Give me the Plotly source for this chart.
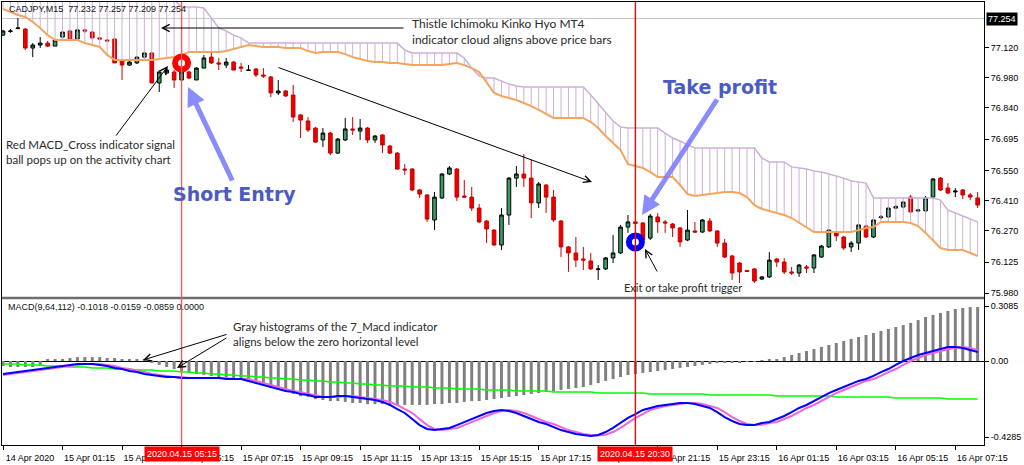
import plotly.graph_objects as go

# ---------------- data ----------------
opens = [77.177, 77.194, 77.207, 77.205, 77.117, 77.131, 77.140, 77.126, 77.168, 77.196,
         77.159, 77.201, 77.191, 77.164, 77.154, 77.159, 77.062, 77.038, 77.048, 77.075,
         77.094, 76.955, 77.001, 77.006, 76.969, 77.006, 76.969, 77.024, 77.075, 77.048,
         77.038, 77.052, 77.029, 77.013, 77.020, 76.992, 76.983, 76.909, 76.918, 76.899,
         76.807, 76.779, 76.746, 76.691, 76.723, 76.630, 76.691, 76.742, 76.732, 76.746,
         76.691, 76.714, 76.663, 76.630, 76.556, 76.556, 76.459, 76.436, 76.320, 76.422,
         76.533, 76.556, 76.431, 76.426, 76.375, 76.315, 76.273, 76.204, 76.343, 76.514,
         76.533, 76.514, 76.399, 76.482, 76.426, 76.315, 76.195, 76.167, 76.139, 76.130,
         76.090, 76.093, 76.144, 76.167, 76.287, 76.311, 76.306, 76.236, 76.334, 76.311,
         76.301, 76.283, 76.227, 76.269, 76.264, 76.315, 76.269, 76.213, 76.153, 76.120,
         76.086, 76.093, 76.046, 76.056, 76.139, 76.125, 76.079, 76.074, 76.102, 76.097,
         76.148, 76.195, 76.260, 76.241, 76.195, 76.213, 76.292, 76.241, 76.331, 76.334,
         76.375, 76.380, 76.426, 76.362, 76.362, 76.426, 76.514, 76.468, 76.450, 76.459,
         76.436, 76.422]
highs = [77.201, 77.205, 77.256, 77.210, 77.140, 77.168, 77.150, 77.159, 77.196, 77.201,
         77.205, 77.205, 77.196, 77.168, 77.159, 77.164, 77.066, 77.057, 77.080, 77.099,
         77.099, 77.015, 77.024, 77.015, 77.011, 77.011, 77.029, 77.085, 77.094, 77.071,
         77.071, 77.057, 77.048, 77.038, 77.024, 77.024, 76.987, 76.969, 76.922, 76.946,
         76.811, 76.797, 76.751, 76.746, 76.728, 76.700, 76.793, 76.797, 76.788, 76.751,
         76.714, 76.718, 76.668, 76.635, 76.579, 76.561, 76.463, 76.440, 76.450, 76.538,
         76.570, 76.561, 76.505, 76.473, 76.394, 76.320, 76.278, 76.375, 76.519, 76.570,
         76.626, 76.598, 76.496, 76.487, 76.459, 76.320, 76.199, 76.241, 76.195, 76.167,
         76.111, 76.148, 76.250, 76.297, 76.343, 76.315, 76.311, 76.348, 76.352, 76.320,
         76.306, 76.287, 76.366, 76.311, 76.324, 76.329, 76.273, 76.232, 76.158, 76.125,
         76.088, 76.097, 76.060, 76.171, 76.144, 76.144, 76.102, 76.116, 76.111, 76.162,
         76.204, 76.278, 76.264, 76.246, 76.222, 76.301, 76.297, 76.324, 76.343, 76.380,
         76.389, 76.408, 76.436, 76.371, 76.431, 76.514, 76.519, 76.491, 76.468, 76.463,
         76.445, 76.450]
lows = [77.173, 77.187, 77.205, 77.108, 77.075, 77.117, 77.122, 77.126, 77.164, 77.154,
        77.159, 77.187, 77.159, 77.154, 77.150, 77.048, 76.969, 77.034, 77.043, 77.071,
        76.955, 76.913, 76.997, 76.932, 76.964, 76.973, 76.969, 77.024, 77.043, 77.015,
        77.024, 77.015, 77.006, 77.011, 76.983, 76.978, 76.890, 76.899, 76.890, 76.774,
        76.700, 76.728, 76.677, 76.658, 76.621, 76.626, 76.686, 76.714, 76.691, 76.677,
        76.677, 76.630, 76.626, 76.552, 76.528, 76.454, 76.422, 76.311, 76.273, 76.417,
        76.528, 76.408, 76.422, 76.362, 76.306, 76.213, 76.199, 76.181, 76.297, 76.473,
        76.473, 76.329, 76.375, 76.352, 76.311, 76.148, 76.079, 76.102, 76.088, 76.088,
        76.042, 76.088, 76.120, 76.162, 76.260, 76.301, 76.222, 76.227, 76.260, 76.260,
        76.241, 76.195, 76.222, 76.260, 76.260, 76.264, 76.195, 76.144, 76.042, 76.028,
        76.079, 76.028, 76.042, 76.051, 76.102, 76.069, 76.065, 76.056, 76.074, 76.074,
        76.144, 76.190, 76.222, 76.181, 76.171, 76.181, 76.236, 76.236, 76.324, 76.329,
        76.371, 76.375, 76.352, 76.357, 76.357, 76.422, 76.454, 76.440, 76.426, 76.417,
        76.412, 76.375]
closes = [77.196, 77.196, 77.210, 77.117, 77.131, 77.140, 77.126, 77.154, 77.191, 77.159,
          77.201, 77.196, 77.164, 77.159, 77.150, 77.048, 77.038, 77.052, 77.075, 77.094,
          76.955, 77.006, 77.015, 76.969, 77.006, 76.978, 77.024, 77.071, 77.048, 77.043,
          77.052, 77.015, 77.024, 77.015, 76.992, 76.987, 76.909, 76.918, 76.895, 76.797,
          76.783, 76.737, 76.681, 76.723, 76.630, 76.695, 76.742, 76.737, 76.746, 76.691,
          76.709, 76.668, 76.630, 76.556, 76.552, 76.459, 76.440, 76.324, 76.426, 76.533,
          76.561, 76.426, 76.426, 76.375, 76.311, 76.278, 76.204, 76.343, 76.514, 76.533,
          76.514, 76.399, 76.487, 76.426, 76.320, 76.195, 76.167, 76.134, 76.134, 76.093,
          76.093, 76.144, 76.167, 76.287, 76.311, 76.304, 76.227, 76.338, 76.311, 76.306,
          76.283, 76.218, 76.273, 76.264, 76.320, 76.269, 76.213, 76.148, 76.074, 76.079,
          76.081, 76.037, 76.056, 76.134, 76.125, 76.079, 76.074, 76.111, 76.097, 76.158,
          76.199, 76.273, 76.246, 76.190, 76.213, 76.297, 76.241, 76.320, 76.334, 76.375,
          76.382, 76.403, 76.357, 76.366, 76.422, 76.510, 76.459, 76.445, 76.454, 76.436,
          76.426, 76.389]

# Ichimoku cloud boundaries (orange span and thistle span)
span_a = [77.298, 77.284, 77.270, 77.261, 77.238, 77.210, 77.177, 77.154, 77.154, 77.154,
          77.154, 77.140, 77.131, 77.122, 77.085, 77.062, 77.062, 77.062, 77.062, 77.062,
          77.062, 77.066, 77.071, 77.075, 77.085, 77.099, 77.099, 77.099, 77.099, 77.099,
          77.103, 77.113, 77.122, 77.131, 77.126, 77.122, 77.122, 77.122, 77.117, 77.117,
          77.117, 77.103, 77.094, 77.099, 77.099, 77.099, 77.089, 77.075, 77.066, 77.057,
          77.052, 77.052, 77.048, 77.048, 77.043, 77.038, 77.038, 77.038, 77.038, 77.038,
          77.043, 77.048, 77.038, 77.024, 77.006, 76.960, 76.909, 76.895, 76.885, 76.876,
          76.862, 76.848, 76.830, 76.811, 76.793, 76.793, 76.793, 76.793, 76.793, 76.774,
          76.746, 76.709, 76.677, 76.644, 76.579, 76.570, 76.561, 76.542, 76.519, 76.519,
          76.519, 76.482, 76.440, 76.431, 76.436, 76.440, 76.445, 76.450, 76.450, 76.445,
          76.426, 76.389, 76.371, 76.362, 76.352, 76.343, 76.329, 76.306, 76.283, 76.264,
          76.264, 76.264, 76.264, 76.264, 76.264, 76.273, 76.283, 76.287, 76.311, 76.311,
          76.311, 76.311, 76.306, 76.292, 76.260, 76.227, 76.190, 76.181, 76.181, 76.181,
          76.167, 76.153]
span_b = [77.340, 77.340, 77.340, 77.340, 77.340, 77.340, 77.340, 77.340, 77.340, 77.340,
          77.340, 77.340, 77.340, 77.340, 77.340, 77.340, 77.340, 77.340, 77.340, 77.340,
          77.340, 77.340, 77.340, 77.340, 77.307, 77.307, 77.307, 77.303, 77.256, 77.210,
          77.196, 77.177, 77.164, 77.140, 77.140, 77.140, 77.140, 77.140, 77.140, 77.140,
          77.140, 77.140, 77.140, 77.140, 77.140, 77.140, 77.140, 77.140, 77.140, 77.140,
          77.140, 77.140, 77.140, 77.140, 77.108, 77.094, 77.094, 77.094, 77.094, 77.094,
          77.094, 77.094, 77.071, 77.024, 76.987, 76.978, 76.978, 76.964, 76.950, 76.941,
          76.936, 76.936, 76.936, 76.936, 76.936, 76.936, 76.936, 76.936, 76.936, 76.899,
          76.858, 76.816, 76.779, 76.751, 76.746, 76.746, 76.746, 76.746, 76.746, 76.723,
          76.700, 76.686, 76.668, 76.654, 76.654, 76.654, 76.654, 76.654, 76.654, 76.654,
          76.654, 76.654, 76.607, 76.589, 76.589, 76.589, 76.566, 76.561, 76.556, 76.547,
          76.542, 76.533, 76.524, 76.514, 76.501, 76.496, 76.491, 76.422, 76.422, 76.422,
          76.422, 76.422, 76.422, 76.422, 76.422, 76.422, 76.412, 76.366, 76.352, 76.338,
          76.324, 76.311]

# MACD panel series
macd_hist = [-0.028, -0.034, -0.034, -0.034, -0.034, -0.028, 0.006, 0.011, 0.011, 0.017,
             0.022, 0.022, 0.022, 0.022, 0.017, 0.017, 0.011, 0.011, 0.006, 0.006,
             -0.011, -0.022, -0.034, -0.045, -0.056, -0.067, -0.073, -0.079, -0.084, -0.090,
             -0.096, -0.101, -0.107, -0.118, -0.129, -0.141, -0.152, -0.163, -0.174, -0.185,
             -0.197, -0.202, -0.214, -0.219, -0.225, -0.225, -0.230, -0.236, -0.236, -0.242,
             -0.242, -0.242, -0.247, -0.247, -0.247, -0.247, -0.247, -0.247, -0.242, -0.242,
             -0.236, -0.236, -0.230, -0.225, -0.225, -0.219, -0.214, -0.208, -0.202, -0.197,
             -0.191, -0.185, -0.180, -0.174, -0.169, -0.163, -0.157, -0.152, -0.146, -0.135,
             -0.124, -0.112, -0.101, -0.090, -0.079, -0.073, -0.067, -0.062, -0.056, -0.051,
             -0.045, -0.039, -0.034, -0.028, -0.022, -0.017, -0.011, -0.008, -0.006, -0.006,
             -0.004, -0.002, 0.002, 0.006, 0.011, 0.022, 0.034, 0.045, 0.056, 0.067,
             0.079, 0.090, 0.101, 0.112, 0.124, 0.135, 0.146, 0.157, 0.169, 0.180,
             0.191, 0.202, 0.214, 0.230, 0.247, 0.259, 0.270, 0.281, 0.292, 0.298,
             0.303, 0.303]
macd_main = [-0.073, -0.067, -0.062, -0.056, -0.051, -0.045, -0.039, -0.034, -0.028, -0.022,
             -0.017, -0.017, -0.017, -0.022, -0.028, -0.039, -0.045, -0.056, -0.062, -0.073,
             -0.079, -0.084, -0.090, -0.090, -0.096, -0.096, -0.096, -0.096, -0.096, -0.096,
             -0.101, -0.101, -0.101, -0.112, -0.124, -0.135, -0.146, -0.157, -0.169, -0.174,
             -0.185, -0.191, -0.202, -0.202, -0.202, -0.197, -0.197, -0.202, -0.208, -0.214,
             -0.219, -0.230, -0.247, -0.270, -0.292, -0.326, -0.360, -0.382, -0.388, -0.382,
             -0.376, -0.360, -0.343, -0.326, -0.309, -0.292, -0.281, -0.275, -0.281, -0.292,
             -0.309, -0.326, -0.343, -0.354, -0.371, -0.388, -0.399, -0.410, -0.416, -0.421,
             -0.416, -0.399, -0.376, -0.348, -0.320, -0.298, -0.275, -0.264, -0.253, -0.247,
             -0.242, -0.236, -0.236, -0.242, -0.253, -0.264, -0.287, -0.315, -0.337, -0.354,
             -0.360, -0.360, -0.348, -0.343, -0.326, -0.309, -0.287, -0.264, -0.247, -0.225,
             -0.202, -0.180, -0.163, -0.146, -0.129, -0.112, -0.101, -0.084, -0.062, -0.045,
             -0.022, 0.000, 0.017, 0.034, 0.045, 0.056, 0.067, 0.079, 0.079, 0.073,
             0.062, 0.051]
macd_signal = [-0.079, -0.073, -0.067, -0.062, -0.056, -0.051, -0.045, -0.039, -0.034, -0.028,
               -0.022, -0.017, -0.017, -0.017, -0.022, -0.028, -0.039, -0.045, -0.056, -0.062,
               -0.073, -0.079, -0.084, -0.090, -0.090, -0.096, -0.096, -0.096, -0.096, -0.096,
               -0.096, -0.101, -0.101, -0.101, -0.112, -0.124, -0.135, -0.146, -0.157, -0.169,
               -0.174, -0.185, -0.191, -0.202, -0.202, -0.202, -0.197, -0.197, -0.202, -0.208,
               -0.214, -0.219, -0.230, -0.247, -0.270, -0.292, -0.326, -0.360, -0.382, -0.388,
               -0.382, -0.376, -0.360, -0.343, -0.326, -0.309, -0.292, -0.281, -0.275, -0.281,
               -0.292, -0.309, -0.326, -0.343, -0.354, -0.371, -0.388, -0.399, -0.410, -0.416,
               -0.418, -0.414, -0.399, -0.376, -0.348, -0.320, -0.298, -0.275, -0.264, -0.253,
               -0.247, -0.242, -0.236, -0.236, -0.242, -0.253, -0.264, -0.287, -0.315, -0.337,
               -0.354, -0.360, -0.358, -0.348, -0.343, -0.326, -0.309, -0.287, -0.264, -0.247,
               -0.225, -0.202, -0.180, -0.163, -0.146, -0.129, -0.112, -0.101, -0.084, -0.062,
               -0.045, -0.022, 0.000, 0.017, 0.034, 0.045, 0.056, 0.067, 0.076, 0.079,
               0.073, 0.062]
macd_slow = [-0.017, -0.017, -0.017, -0.022, -0.022, -0.022, -0.028, -0.028, -0.028, -0.034,
             -0.034, -0.034, -0.039, -0.039, -0.039, -0.045, -0.045, -0.045, -0.051, -0.051,
             -0.051, -0.056, -0.056, -0.056, -0.062, -0.062, -0.067, -0.067, -0.073, -0.073,
             -0.079, -0.079, -0.084, -0.084, -0.090, -0.090, -0.096, -0.096, -0.101, -0.101,
             -0.107, -0.107, -0.112, -0.112, -0.118, -0.118, -0.124, -0.124, -0.129, -0.129,
             -0.135, -0.135, -0.140, -0.140, -0.140, -0.146, -0.146, -0.146, -0.152, -0.152,
             -0.152, -0.157, -0.157, -0.157, -0.157, -0.163, -0.163, -0.163, -0.163, -0.169,
             -0.169, -0.169, -0.169, -0.169, -0.174, -0.174, -0.174, -0.174, -0.174, -0.174,
             -0.180, -0.180, -0.180, -0.180, -0.180, -0.180, -0.180, -0.185, -0.185, -0.185,
             -0.185, -0.185, -0.185, -0.185, -0.185, -0.191, -0.191, -0.191, -0.191, -0.191,
             -0.191, -0.191, -0.191, -0.191, -0.197, -0.197, -0.197, -0.197, -0.197, -0.197,
             -0.197, -0.197, -0.202, -0.202, -0.202, -0.202, -0.202, -0.202, -0.202, -0.202,
             -0.208, -0.208, -0.208, -0.208, -0.208, -0.208, -0.208, -0.214, -0.214, -0.214,
             -0.214, -0.214]

tick_labels = ["14 Apr 2020", "15 Apr 01:15", "15 Apr 03:15", "15 Apr 05:15", "15 Apr 07:15",
               "15 Apr 09:15", "15 Apr 11:15", "15 Apr 13:15", "15 Apr 15:15", "15 Apr 17:15",
               "15 Apr 19:15", "15 Apr 21:15", "15 Apr 23:15", "16 Apr 01:15", "16 Apr 03:15",
               "16 Apr 05:15", "16 Apr 07:15"]
bars_per_label = 8
price_ticks = [77.120, 76.980, 76.840, 76.695, 76.550, 76.410, 76.270, 76.125, 75.980]
macd_ticks = [0.3085, 0.0, -0.4285]
macd_tick_text = ["0.3085", "0.00", "-0.4285"]
current_price = 77.254
entry_bar, entry_label = 24, "2020.04.15 05:15"
exit_bar, exit_label = 85, "2020.04.15 20:30"
sell_signal_bar, sell_signal_price = [24], [77.048]
exit_signal_bar, exit_signal_price = [85], [76.218]

# ---------------- figure ----------------
bars = list(range(len(opens)))
THISTLE = "#cdb0d6"
ORANGE = "#f5a45e"

cloud_x, cloud_y = [], []
for i, (a, b) in enumerate(zip(span_a, span_b)):
    cloud_x += [i, i, None]
    cloud_y += [a, b, None]

fig = go.Figure()
fig.add_trace(go.Scatter(x=cloud_x, y=cloud_y, mode="lines", line=dict(color=THISTLE, width=1),
                         hoverinfo="skip", xaxis="x", yaxis="y"))
fig.add_trace(go.Scatter(x=bars, y=span_b, mode="lines", line=dict(color=THISTLE, width=1.5),
                         xaxis="x", yaxis="y"))
fig.add_trace(go.Scatter(x=bars, y=span_a, mode="lines", line=dict(color=ORANGE, width=2),
                         xaxis="x", yaxis="y"))
fig.add_trace(go.Candlestick(
    x=bars, open=opens, high=highs, low=lows, close=closes, xaxis="x", yaxis="y",
    increasing=dict(line=dict(color="#000000", width=1), fillcolor="#3a9c62"),
    decreasing=dict(line=dict(color="#c80000", width=1), fillcolor="#ee0000"),
    whiskerwidth=0))
fig.add_trace(go.Scatter(x=sell_signal_bar, y=sell_signal_price, mode="markers",
                         marker=dict(symbol="circle-open", size=13, color="#ff0000", line=dict(width=6)),
                         xaxis="x", yaxis="y"))
fig.add_trace(go.Scatter(x=exit_signal_bar, y=exit_signal_price, mode="markers",
                         marker=dict(symbol="circle-open", size=13, color="#0000ff", line=dict(width=6)),
                         xaxis="x", yaxis="y"))

# MACD panel
fig.add_trace(go.Bar(x=bars, y=macd_hist, width=0.4, marker=dict(color="#808080", line=dict(width=0)),
                     xaxis="x2", yaxis="y2"))
fig.add_trace(go.Scatter(x=bars, y=macd_slow, mode="lines", line=dict(color="#00ff00", width=1.5),
                         xaxis="x2", yaxis="y2"))
fig.add_trace(go.Scatter(x=bars, y=macd_signal, mode="lines", line=dict(color="#ee66dd", width=2),
                         xaxis="x2", yaxis="y2"))
fig.add_trace(go.Scatter(x=bars, y=macd_main, mode="lines", line=dict(color="#0000ff", width=2),
                         xaxis="x2", yaxis="y2"))

# ---------------- layout ----------------
W, H = 1024, 465
L, R, T, B = 2, 40, 2, 20
PW, PH = W - L - R, H - T - B
PX0 = 3.0          # pixel of first bar centre
BAR_PX = 7.44      # pixel spacing of bars


def px(x, y):
    return (x - L) / PW, (H - B - y) / PH


xr = [(L - PX0) / BAR_PX, (W - R - PX0) / BAR_PX]
main_dom = [px(0, 297)[1], 1]
macd_dom = [0, px(0, 299)[1]]
# price axis scale: 215.7 px per 1.0 price, 75.98 at pixel 293.3
p_per_px = 1 / 215.7
yr_main = [75.98 - (297 - 293.3) * p_per_px, 75.98 + (293.3 - 2) * p_per_px]
m_per_px = 1 / 178.0
yr_macd = [-(445 - 361) * m_per_px, (361 - 299) * m_per_px]

axis_font = dict(family="Liberation Sans, Arial, sans-serif", size=9, color="black")
fig.update_layout(
    width=W, height=H, margin=dict(l=L, r=R, t=T, b=B),
    paper_bgcolor="white", plot_bgcolor="white", showlegend=False,
    font=axis_font,
    xaxis=dict(domain=[0, 1], anchor="y", range=xr, showticklabels=False, ticks="",
               showgrid=False, zeroline=False, showline=True, mirror=True, linecolor="black",
               linewidth=1, rangeslider=dict(visible=False)),
    xaxis2=dict(domain=[0, 1], anchor="y2", matches="x", range=xr,
                tickmode="array", tickvals=[k * bars_per_label for k in range(len(tick_labels))],
                ticktext=tick_labels, ticks="outside", ticklen=4, tickcolor="black",
                ticklabelshift=27, tickfont=axis_font,
                showgrid=False, zeroline=False, showline=True, mirror=True, linecolor="black",
                linewidth=1, rangeslider=dict(visible=False)),
    yaxis=dict(domain=main_dom, anchor="x", side="right", range=yr_main,
               tickmode="array", tickvals=price_ticks, ticktext=[f"{v:.3f}" for v in price_ticks],
               ticks="outside", ticklen=4, tickcolor="black", tickfont=axis_font,
               showgrid=False, zeroline=False, showline=True, mirror=True, linecolor="black"),
    yaxis2=dict(domain=macd_dom, anchor="x2", side="right", range=yr_macd,
                tickmode="array", tickvals=macd_ticks, ticktext=macd_tick_text,
                ticks="outside", ticklen=4, tickcolor="black", tickfont=axis_font,
                showgrid=False, zeroline=True, zerolinecolor="black", zerolinewidth=1,
                showline=True, mirror=True, linecolor="black"),
)

shapes = [
    # current price line
    dict(type="line", xref="x domain", yref="y", x0=0, x1=1, y0=current_price, y1=current_price,
         line=dict(color="#c8c8c8", width=1), layer="below"),
    # panel separator
    dict(type="rect", xref="paper", yref="paper", x0=0, x1=1,
         y0=px(0, 299.2)[1], y1=px(0, 296.8)[1], fillcolor="#6e6e6e", line=dict(width=0)),
    # red vertical markers
    dict(type="line", xref="x", yref="paper", x0=entry_bar, x1=entry_bar, y0=0, y1=1,
         line=dict(color="#ff5a5a", width=1.4)),
    dict(type="line", xref="x", yref="paper", x0=exit_bar, x1=exit_bar, y0=0, y1=1,
         line=dict(color="#ff0000", width=1.4)),
]
fig.update_layout(shapes=shapes)

TXT = "Lato, Liberation Sans, sans-serif"
BLUE_TXT = "#4a5bc4"
ARROW_BLUE = "rgba(125,128,250,0.9)"
ann = []


def text(x, y, s, size=11.5, color="#2a2a2a", family=TXT, xanchor="left", bold=False, align="left"):
    xp, yp = px(x, y)
    ann.append(dict(x=xp, y=yp, xref="paper", yref="paper", text=f"<b>{s}</b>" if bold else s,
                    showarrow=False, xanchor=xanchor, yanchor="middle", align=align,
                    font=dict(family=family, size=size, color=color)))


def arrow(hx, hy, tx, ty, color="black", width=1, head=5, size=1.4):
    xp, yp = px(hx, hy)
    ann.append(dict(x=xp, y=yp, xref="paper", yref="paper", text="", showarrow=True,
                    ax=tx - hx, ay=ty - hy, axref="pixel", ayref="pixel",
                    arrowhead=head, arrowsize=size, arrowwidth=width, arrowcolor=color))


text(7, 9, "CADJPY,M15  77.232 77.257 77.209 77.254", size=9, color="#111", family=axis_font["family"])
text(410, 32, "Thistle Ichimoku Kinko Hyo MT4<br>indicator cloud aligns above price bars", size=12)
arrow(161, 28, 405, 28)
text(4, 152, "Red MACD_Cross indicator signal<br>ball pops up on the activity chart", size=11.5)
arrow(168, 66, 115, 137)
arrow(592, 182, 277, 67)
text(234, 194, "Short Entry", size=19, color=BLUE_TXT, family="DejaVu Sans, Verdana, sans-serif",
     xanchor="center", bold=True)
arrow(188, 87, 233, 182, color=ARROW_BLUE, width=5, head=2, size=0.75)
text(720, 87, "Take profit", size=19, color=BLUE_TXT, family="DejaVu Sans, Verdana, sans-serif",
     xanchor="center", bold=True)
arrow(642, 215, 718, 98, color=ARROW_BLUE, width=5, head=2, size=0.75)
text(622, 287, "Exit or take profit trigger", size=11, color="#2a2a2a")
arrow(645, 249, 658, 273)
text(6, 307, "MACD(9,64,112) -0.1018 -0.0159 -0.0859 0.0000", size=9, color="#111",
     family=axis_font["family"])
text(231, 334, "Gray histograms of the 7_Macd indicator<br>aligns below the zero horizontal level", size=11.5)
arrow(143, 360, 228, 334)
arrow(177, 368, 228, 337)

# axis badges
ann.append(dict(x=px(986, 0)[0], y=current_price, xref="paper", yref="y", text=f"{current_price:.3f}",
                showarrow=False, xanchor="left", yanchor="middle", bgcolor="black", borderpad=1,
                font=dict(family=axis_font["family"], size=9, color="white")))
for b, lab in [(entry_bar, entry_label), (exit_bar, exit_label)]:
    ann.append(dict(x=b, y=0, xref="x2", yref="paper", text=lab, showarrow=False,
                    xanchor="center", yanchor="top", yshift=-1, bgcolor="#ff0000", borderpad=2,
                    font=dict(family=axis_font["family"], size=9, color="white")))
fig.update_layout(annotations=ann)

fig.write_html("out.html")
